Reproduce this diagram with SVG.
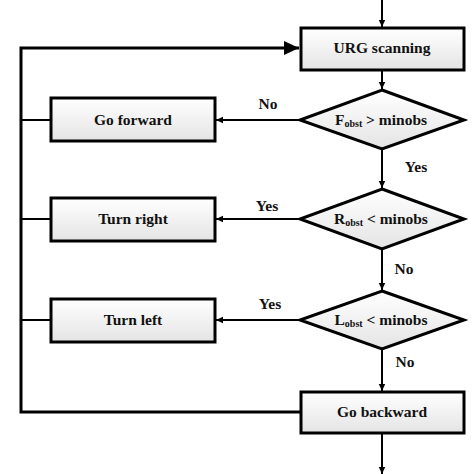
<svg xmlns="http://www.w3.org/2000/svg" width="474" height="474" viewBox="0 0 474 474">
<defs>
<linearGradient id="g" x1="0" y1="0" x2="0" y2="1">
<stop offset="0" stop-color="#ffffff"/>
<stop offset="1" stop-color="#e4e4e4"/>
</linearGradient>
<marker id="a" markerWidth="8" markerHeight="8" refX="7" refY="4" orient="auto" markerUnits="userSpaceOnUse">
<path d="M0,0.8 L7,4 L0,7.2 Z" fill="#000"/>
</marker>
<marker id="big" markerWidth="16" markerHeight="14" refX="15" refY="7" orient="auto" markerUnits="userSpaceOnUse">
<path d="M0,0 L15,7 L0,14 Z" fill="#000"/>
</marker>
</defs>
<style>
.box{fill:url(#g);stroke:#000;stroke-width:3}
.dia{fill:url(#g);stroke:#000;stroke-width:3}
.t{font-family:"Liberation Serif","Times New Roman",serif;font-weight:bold;font-size:15.5px;fill:#111;text-anchor:middle}
.s{font-size:10px}
.lbl{font-family:"Liberation Serif","Times New Roman",serif;font-weight:bold;font-size:15.5px;fill:#111;text-anchor:middle}
.c{fill:none;stroke:#000;stroke-width:2}
.cb{fill:none;stroke:#000;stroke-width:3}
</style>
<g id="connectors">
<line class="c" x1="382" y1="0" x2="382" y2="27" marker-end="url(#a)"/>
<line class="c" x1="382" y1="70" x2="382" y2="89" marker-end="url(#a)"/>
<line class="c" x1="382" y1="150" x2="382" y2="188" marker-end="url(#a)"/>
<line class="c" x1="382" y1="250" x2="382" y2="290" marker-end="url(#a)"/>
<line class="c" x1="382" y1="350" x2="382" y2="391" marker-end="url(#a)"/>
<line class="c" x1="382" y1="434" x2="382" y2="474" marker-end="url(#a)"/>
<line class="c" x1="299" y1="120" x2="216" y2="120" marker-end="url(#a)"/>
<line class="c" x1="299" y1="219" x2="216" y2="219" marker-end="url(#a)"/>
<line class="c" x1="299" y1="320" x2="216" y2="320" marker-end="url(#a)"/>
<line class="c" x1="50" y1="120" x2="21" y2="120"/>
<line class="c" x1="50" y1="219" x2="21" y2="219"/>
<line class="c" x1="50" y1="320" x2="21" y2="320"/>
<path class="cb" d="M300,412 H21 V48 H299" marker-end="url(#big)"/>
<text class="lbl" x="268" y="109">No</text>
<text class="lbl" x="416" y="172">Yes</text>
<text class="lbl" x="267" y="211">Yes</text>
<text class="lbl" x="404" y="274">No</text>
<text class="lbl" x="270" y="309">Yes</text>
<text class="lbl" x="405" y="367">No</text>
</g>
<g id="urg">
<rect class="box" x="301" y="28" width="163" height="42"/>
<text class="t" x="382" y="53">URG scanning</text>
</g>
<g id="d1">
<polygon class="dia" points="382,90 464,120 382,149 300,120"/>
<text class="t" x="381" y="125">F<tspan class="s" dy="2">obst</tspan><tspan dy="-2"> &gt; minobs</tspan></text>
</g>
<g id="forward">
<rect class="box" x="51" y="98" width="164" height="43"/>
<text class="t" x="133" y="125">Go forward</text>
</g>
<g id="d2">
<polygon class="dia" points="382,189 464,219 382,249 300,219"/>
<text class="t" x="381" y="224">R<tspan class="s" dy="2">obst</tspan><tspan dy="-2"> &lt; minobs</tspan></text>
</g>
<g id="right">
<rect class="box" x="51" y="198" width="164" height="43"/>
<text class="t" x="133" y="224">Turn right</text>
</g>
<g id="d3">
<polygon class="dia" points="382,291 464,320 382,349 300,320"/>
<text class="t" x="381" y="325">L<tspan class="s" dy="2">obst</tspan><tspan dy="-2"> &lt; minobs</tspan></text>
</g>
<g id="left">
<rect class="box" x="51" y="299" width="164" height="43"/>
<text class="t" x="133" y="325">Turn left</text>
</g>
<g id="backward">
<rect class="box" x="301" y="392" width="163" height="41"/>
<text class="t" x="382" y="417">Go backward</text>
</g>
</svg>
